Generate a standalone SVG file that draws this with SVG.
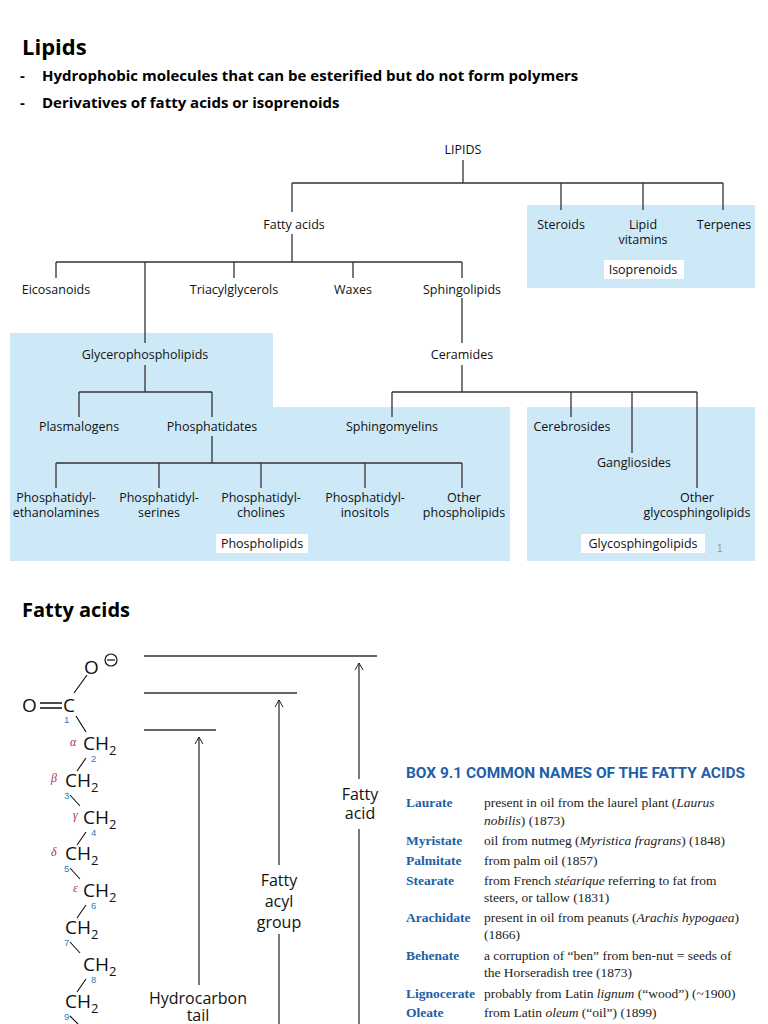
<svg xmlns="http://www.w3.org/2000/svg" width="768" height="1024" viewBox="0 0 768 1024">
<style>
.t{font-family:"Open Sans","Liberation Sans",sans-serif;font-size:12.5px;fill:#111;text-anchor:middle}
.l{stroke:#333;stroke-width:1.3;fill:none}
.box{fill:#cde9f8}
.h{font-family:"Open Sans","Liberation Sans",sans-serif;font-weight:bold;fill:#000}
.c{font-family:"Open Sans","Liberation Sans",sans-serif;font-size:19px;fill:#111}
.g{font-family:"Liberation Serif",serif;font-style:italic;font-size:12px;fill:#b0305a}
.n{font-family:"Liberation Sans",sans-serif;font-size:9.5px;fill:#2a7fc0}
.nm{font-family:"Liberation Serif",serif;font-weight:bold;font-size:13.5px;fill:#2060a8}
.d{font-family:"Liberation Serif",serif;font-size:13.5px;fill:#222}
.k{font-family:"Open Sans","Liberation Sans",sans-serif;font-size:16px;fill:#111;text-anchor:middle}
.ah{fill:none;stroke:#222;stroke-width:1}
</style>
<rect width="768" height="1024" fill="#fff"/>
<text x="22" y="55" class="h" font-size="22">Lipids</text>
<text x="20" y="81" class="h" font-size="15">-</text><text x="42" y="81" class="h" font-size="15">Hydrophobic molecules that can be esterified but do not form polymers</text>
<text x="20" y="108" class="h" font-size="15">-</text><text x="42" y="108" class="h" font-size="15">Derivatives of fatty acids or isoprenoids</text>
<g id="boxes">
<rect class="box" x="527" y="205" width="228" height="83"/>
<path class="box" d="M10,333 H273 V407 H510 V561 H10 Z"/>
<rect class="box" x="527" y="407" width="228" height="154"/>
<rect x="604" y="260" width="80" height="19" fill="#fff"/>
<rect x="216" y="534" width="92" height="19" fill="#fff"/>
<rect x="581" y="534" width="124" height="19" fill="#fff"/>
</g>
<g id="connectors">
<path class="l" d="M463,160V183 M292,183H723 M292,183V212 M561,183V210 M643,183V210 M723,183V210"/>
<path class="l" d="M292,234V262 M56,262H462 M56,262V278 M145,262V343 M234,262V278 M353,262V278 M462,262V278"/>
<path class="l" d="M462,298V343 M462,365V392 M392,392H697 M392,392V417 M571,392V417 M632,392V453 M697,392V488"/>
<path class="l" d="M145,365V392 M79,392H212 M79,392V417 M212,392V417"/>
<path class="l" d="M212,436V463 M56,463H462 M56,463V488 M159,463V488 M261,463V488 M365,463V488 M462,463V488"/>
</g>
<g id="tree">
<text class="t" x="463" y="154">LIPIDS</text>
<text class="t" x="294" y="229">Fatty acids</text>
<text class="t" x="561" y="229">Steroids</text>
<text class="t" x="643" y="229">Lipid</text><text class="t" x="643" y="244">vitamins</text>
<text class="t" x="724" y="229">Terpenes</text>
<text class="t" x="643" y="274">Isoprenoids</text>
<text class="t" x="56" y="294">Eicosanoids</text>
<text class="t" x="234" y="294">Triacylglycerols</text>
<text class="t" x="353" y="294">Waxes</text>
<text class="t" x="462" y="294">Sphingolipids</text>
<text class="t" x="145" y="359">Glycerophospholipids</text>
<text class="t" x="462" y="359">Ceramides</text>
<text class="t" x="79" y="431">Plasmalogens</text>
<text class="t" x="212" y="431">Phosphatidates</text>
<text class="t" x="392" y="431">Sphingomyelins</text>
<text class="t" x="572" y="431">Cerebrosides</text>
<text class="t" x="634" y="467">Gangliosides</text>
<text class="t" x="697" y="502">Other</text><text class="t" x="697" y="517">glycosphingolipids</text>
<text class="t" x="56" y="502">Phosphatidyl-</text><text class="t" x="56" y="517">ethanolamines</text>
<text class="t" x="159" y="502">Phosphatidyl-</text><text class="t" x="159" y="517">serines</text>
<text class="t" x="261" y="502">Phosphatidyl-</text><text class="t" x="261" y="517">cholines</text>
<text class="t" x="365" y="502">Phosphatidyl-</text><text class="t" x="365" y="517">inositols</text>
<text class="t" x="464" y="502">Other</text><text class="t" x="464" y="517">phospholipids</text>
<text class="t" x="262" y="548">Phospholipids</text>
<text class="t" x="643" y="548">Glycosphingolipids</text>
<text x="717" y="552" font-family="Liberation Sans,sans-serif" font-size="10" fill="#999">1</text>
</g>
<text x="22" y="617" class="h" font-size="20">Fatty acids</text>
<g id="molecule">
<text class="c" x="22" y="712">O</text>
<path d="M40,703H62 M40,708H62" stroke="#111" stroke-width="1.4"/>
<text class="c" x="63" y="712">C</text>
<text class="c" x="84" y="674">O</text>
<circle cx="111" cy="660" r="6" fill="none" stroke="#111" stroke-width="1.2"/><path d="M107,660H115" stroke="#111" stroke-width="1.2"/>
<path d="M74,693L87,675 M76,716L86,732" stroke="#111" stroke-width="1.2"/>
<text class="n" x="64" y="723">1</text>
<text class="c" x="83" y="750">CH<tspan font-size="13" dy="5">2</tspan></text>
<text class="c" x="65" y="787">CH<tspan font-size="13" dy="5">2</tspan></text>
<text class="c" x="83" y="824">CH<tspan font-size="13" dy="5">2</tspan></text>
<text class="c" x="65" y="860">CH<tspan font-size="13" dy="5">2</tspan></text>
<text class="c" x="83" y="897">CH<tspan font-size="13" dy="5">2</tspan></text>
<text class="c" x="65" y="934">CH<tspan font-size="13" dy="5">2</tspan></text>
<text class="c" x="83" y="971">CH<tspan font-size="13" dy="5">2</tspan></text>
<text class="c" x="65" y="1008">CH<tspan font-size="13" dy="5">2</tspan></text>
<path d="M86,758L77,771 M70,795L80,806 M86,832L77,845 M70,868L80,879 M86,905L77,918 M70,942L80,953 M86,979L77,992 M70,1016L78,1024" stroke="#111" stroke-width="1.1"/>
<text class="g" x="70" y="746">α</text><text class="n" x="91" y="762">2</text>
<text class="g" x="51" y="782">β</text><text class="n" x="64" y="799">3</text>
<text class="g" x="73" y="819">γ</text><text class="n" x="91" y="836">4</text>
<text class="g" x="51" y="856">δ</text><text class="n" x="64" y="872">5</text>
<text class="g" x="73" y="892">ε</text><text class="n" x="91" y="909">6</text>
<text class="n" x="64" y="946">7</text>
<text class="n" x="91" y="983">8</text>
<text class="n" x="64" y="1020">9</text>
</g>
<g id="brackets">
<path d="M144,656H377 M144,693H297 M144,730H216" stroke="#333" stroke-width="1.3"/>
<path d="M359,663V779 M359,829V1024 M279,700V865 M279,934V1024 M199,737V985" stroke="#222" stroke-width="1.2"/>
<path class="ah" d="M355,670L359,663L363,670 M275,707L279,700L283,707 M195,744L199,737L203,744"/>
<text class="k" x="360" y="800">Fatty</text><text class="k" x="360" y="819">acid</text>
<text class="k" x="279" y="886">Fatty</text><text class="k" x="279" y="907">acyl</text><text class="k" x="279" y="928">group</text>
<text class="k" x="198" y="1004">Hydrocarbon</text><text class="k" x="198" y="1021">tail</text>
</g>
<g id="box91">
<text x="406" y="778" font-family="Roboto,Liberation Sans,sans-serif" font-weight="bold" font-size="15" fill="#1f5fa8" textLength="339" lengthAdjust="spacingAndGlyphs">BOX 9.1  COMMON NAMES OF THE FATTY ACIDS</text>
<text class="nm" x="406" y="807">Laurate</text><text class="d" x="484" y="807">present in oil from the laurel plant (<tspan font-style="italic">Laurus</tspan></text>
<text class="d" x="484" y="825" font-style="italic">nobilis<tspan font-style="normal">) (1873)</tspan></text>
<text class="nm" x="406" y="845">Myristate</text><text class="d" x="484" y="845">oil from nutmeg (<tspan font-style="italic">Myristica fragrans</tspan>) (1848)</text>
<text class="nm" x="406" y="865">Palmitate</text><text class="d" x="484" y="865">from palm oil (1857)</text>
<text class="nm" x="406" y="885">Stearate</text><text class="d" x="484" y="885">from French <tspan font-style="italic">stéarique</tspan> referring to fat from</text>
<text class="d" x="484" y="902">steers, or tallow (1831)</text>
<text class="nm" x="406" y="922">Arachidate</text><text class="d" x="484" y="922">present in oil from peanuts (<tspan font-style="italic">Arachis hypogaea</tspan>)</text>
<text class="d" x="484" y="939">(1866)</text>
<text class="nm" x="406" y="960">Behenate</text><text class="d" x="484" y="960">a corruption of “ben” from ben-nut = seeds of</text>
<text class="d" x="484" y="977">the Horseradish tree (1873)</text>
<text class="nm" x="406" y="998">Lignocerate</text><text class="d" x="484" y="998">probably from Latin <tspan font-style="italic">lignum</tspan> (“wood”) (~1900)</text>
<text class="nm" x="406" y="1017">Oleate</text><text class="d" x="484" y="1017">from Latin <tspan font-style="italic">oleum</tspan> (“oil”) (1899)</text>
</g>
</svg>
